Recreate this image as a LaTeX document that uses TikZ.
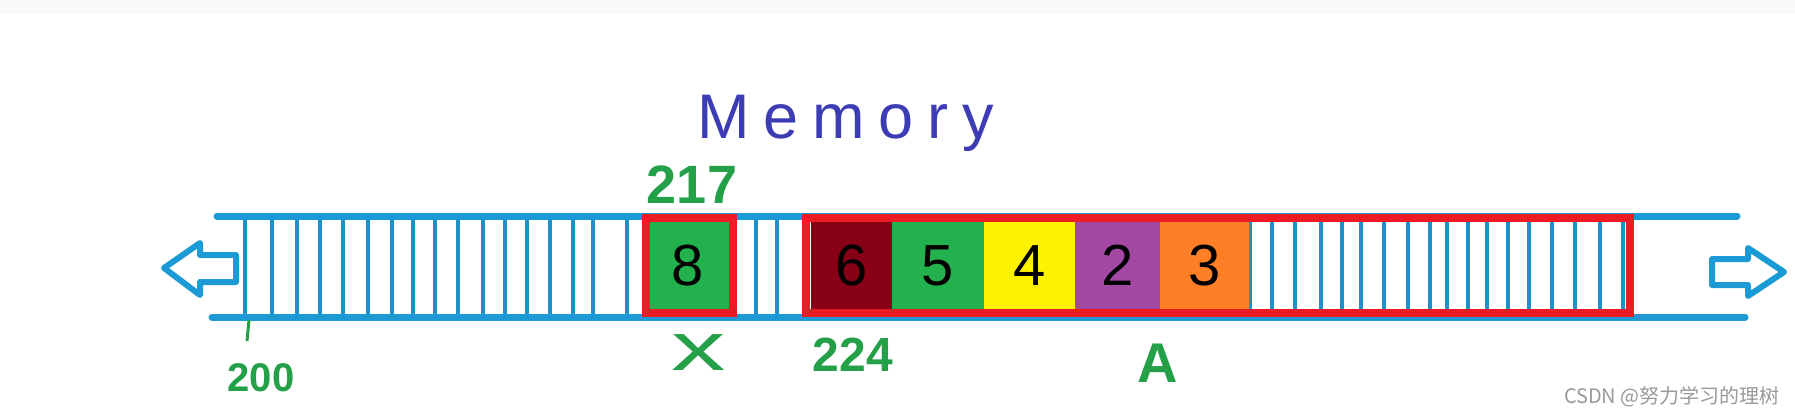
\documentclass[tikz,border=0pt]{standalone}
\usepackage{fontspec}
\setmainfont{Liberation Sans}
\newfontfamily\memfont[LetterSpace=22]{Liberation Sans}
\newfontfamily\cjkfont{Noto Sans CJK SC}
\definecolor{railblue}{RGB}{27,154,214}
\definecolor{lineblue}{RGB}{32,145,200}
\definecolor{pred}{RGB}{237,28,36}
\definecolor{pgreen}{RGB}{34,177,76}
\definecolor{pdarkred}{RGB}{136,0,21}
\definecolor{pyellow}{RGB}{255,242,0}
\definecolor{ppurple}{RGB}{163,73,164}
\definecolor{porange}{RGB}{255,127,39}
\definecolor{lblgreen}{RGB}{36,160,72}
\definecolor{memblue}{RGB}{60,60,180}
\definecolor{topband}{RGB}{250,250,250}
\begin{document}
\begin{tikzpicture}[x=1pt,y=-1pt,
  rail/.style={railblue,line width=7pt,line cap=round},
  slot/.style={lineblue,line width=3.5pt},
  cell/.style={inner sep=0pt,minimum height=87pt,font=\fontsize{58}{60}\selectfont,text=black},
  redframe/.style={draw=pred,line width=8pt,inner sep=0pt,minimum height=95pt},
  lbl/.style={text=lblgreen,inner sep=0pt},
  hollowarrow/.style={draw=railblue,line width=6pt,line join=round,fill=white}]
\useasboundingbox (0,0) rectangle (1795,415);
\fill[white] (0,0) rectangle (1795,415);
\fill[topband] (0,0) rectangle (1795,14);
% rails
\coordinate (tl) at (217,216);
\coordinate (tr) at (1737,216);
\coordinate (bl) at (212,317);
\coordinate (br) at (1745,317);
\draw[rail] (tl) -- (tr);
\draw[rail] (bl) -- (br);
% memory slots
\foreach \x in {245,272,297,320,343,368,392,413,435,458,483,505,527,550,573,593,627,
                756,777,
                1250,1272,1295,1321,1342,1361,1384,1408,1430,1447,1468,1487,1508,1529,1552,1575,1600,1623}
  \draw[slot] (\x,219) -- (\x,314);
% cells
\node[cell,fill=pgreen,minimum width=82pt] (x8) at (688,265.5) {8};
\node[cell,fill=pdarkred,minimum width=81pt] (a6) at (851.5,265.5) {6};
\node[cell,fill=pgreen,minimum width=92pt] (a5) at (938,265.5) {5};
\node[cell,fill=pyellow,minimum width=91pt] (a4) at (1029.5,265.5) {4};
\node[cell,fill=ppurple,minimum width=85pt] (a2) at (1117.5,265.5) {2};
\node[cell,fill=porange,minimum width=89pt] (a3) at (1204.5,265.5) {3};
% red frames
\node[redframe,minimum width=87pt] (xframe) at (689.5,265.5) {};
\node[redframe,minimum width=824pt] (aframe) at (1218,265.5) {};
% arrows
\draw[hollowarrow] (164,268) -- (200,243) -- (200,255) -- (236,255) -- (236,282) -- (200,282) -- (200,295) -- cycle;
\draw[hollowarrow] (1784,272) -- (1748,248) -- (1748,259) -- (1712,259) -- (1712,285) -- (1748,285) -- (1748,296) -- cycle;
% labels
\node[anchor=base west,text=memblue,font=\memfont\fontsize{63}{66}\selectfont,inner sep=0pt] (mem) at (697,138) {Memory};
\node[lbl,font=\bfseries\fontsize{54}{58}\selectfont] (l217) at (692,185) {217};
\node[lbl,font=\bfseries\fontsize{40}{42}\selectfont] (l200) at (261,378) {200};
\coordinate (tick0) at (249,320);
\coordinate (tick1) at (247,341);
\draw[lblgreen,line width=3pt] (tick0) -- (tick1);
\node[lbl,font=\fontsize{68}{70}\selectfont] (lx) at (699,353) {\scalebox{1.6}[1]{x}};
\node[lbl,font=\bfseries\fontsize{48}{52}\selectfont] (l224) at (853,355) {224};
\node[lbl,font=\bfseries\fontsize{56}{58}\selectfont] (lA) at (1158,363) {A};
% watermark
\node[anchor=east,text=black!40,font=\cjkfont\fontsize{20}{22}\selectfont,inner sep=0pt] (wm) at (1780,397) {CSDN @努力学习的理树};
\end{tikzpicture}
\end{document}
